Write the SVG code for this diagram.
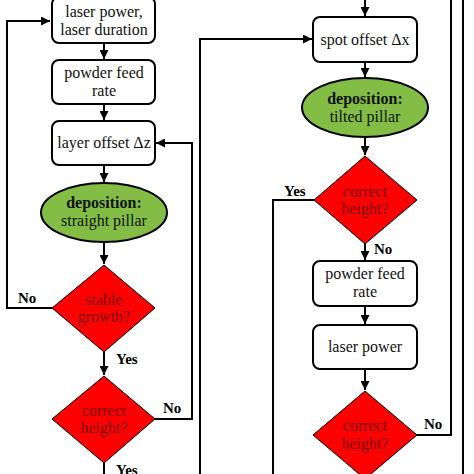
<svg xmlns="http://www.w3.org/2000/svg" width="474" height="474" viewBox="0 0 474 474">
<defs>
<marker id="ah" viewBox="0 0 10 10" refX="10" refY="5" markerWidth="5" markerHeight="4.5" orient="auto" markerUnits="strokeWidth">
<path d="M0,0 L10,5 L0,10 z" fill="#000"/>
</marker>
<style>
.box{fill:#fff;stroke:#000;stroke-width:2}
.ell{fill:#83bd45;stroke:#000;stroke-width:2}
.dia{fill:#ff0000;stroke:#000;stroke-width:1}
.t{font-family:"Liberation Serif","Times New Roman",serif;font-size:16px;fill:#111;text-anchor:middle}
.b{font-weight:bold}
.dt{font-family:"Liberation Serif","Times New Roman",serif;font-size:16px;fill:#7a0000;text-anchor:middle}
.lbl{font-family:"Liberation Serif","Times New Roman",serif;font-size:15px;font-weight:bold;fill:#000}
.c{fill:none;stroke:#000;stroke-width:2}
.a{marker-end:url(#ah)}
</style>
</defs>
<rect width="474" height="474" fill="#fff"/>
<g id="connectors">
<path class="c a" d="M104,43 V59"/>
<path class="c a" d="M104,104 V120"/>
<path class="c a" d="M104,165 V182"/>
<path class="c a" d="M104,242 V264"/>
<path class="c a" d="M52,308 H7 V21 H50"/>
<path class="c a" d="M104,352 V375"/>
<path class="c a" d="M155,419 H192 V143 H156"/>
<path class="c" d="M104,463 V474"/>
<path class="c a" d="M200,474 V39 H312"/>
<path class="c a" d="M365,0 V16"/>
<path class="c a" d="M365,62 V77"/>
<path class="c a" d="M365,137 V155"/>
<path class="c" d="M314,200 H273 V474"/>
<path class="c a" d="M365,244 V260"/>
<path class="c a" d="M365,306 V324"/>
<path class="c a" d="M365,369 V390"/>
<path class="c" d="M417,435 H451 V0"/>
<path class="c" d="M463,0 V474"/>
<text class="lbl" x="18" y="303">No</text>
<text class="lbl" x="116" y="364">Yes</text>
<text class="lbl" x="163" y="413">No</text>
<text class="lbl" x="116" y="475">Yes</text>
<text class="lbl" x="284" y="196">Yes</text>
<text class="lbl" x="374" y="254">No</text>
<text class="lbl" x="424" y="429">No</text>
</g>
<g id="n1"><rect class="box" x="52" y="-3" width="103" height="46" rx="7"/><text class="t" x="104" y="17">laser power,</text><text class="t" x="104" y="35">laser duration</text></g>
<g id="n2"><rect class="box" x="52" y="60" width="103" height="44" rx="7"/><text class="t" x="104" y="78">powder feed</text><text class="t" x="104" y="96">rate</text></g>
<g id="n3"><rect class="box" x="52" y="121" width="103" height="44" rx="7"/><text class="t" x="104" y="148">layer offset Δz</text></g>
<g id="n4"><ellipse class="ell" cx="104" cy="212.5" rx="63" ry="29.5"/><text class="t b" x="104" y="208">deposition:</text><text class="t" x="104" y="226">straight pillar</text></g>
<g id="n5"><polygon class="dia" points="104,265 155,308 104,352 52,308"/><text class="dt" x="104" y="305">stable</text><text class="dt" x="104" y="322">growth?</text></g>
<g id="n6"><polygon class="dia" points="104,376 155,419 104,463 52,419"/><text class="dt" x="104" y="416">correct</text><text class="dt" x="104" y="433">height?</text></g>
<g id="n7"><rect class="box" x="313" y="17" width="104" height="45" rx="7"/><text class="t" x="365" y="45">spot offset Δx</text></g>
<g id="n8"><ellipse class="ell" cx="365" cy="107.5" rx="63" ry="29.5"/><text class="t b" x="365" y="104">deposition:</text><text class="t" x="365" y="122">tilted pillar</text></g>
<g id="n9"><polygon class="dia" points="365,156 417,200 365,244 314,200"/><text class="dt" x="365" y="197">correct</text><text class="dt" x="365" y="214">height?</text></g>
<g id="n10"><rect class="box" x="313" y="261" width="104" height="45" rx="7"/><text class="t" x="365" y="279">powder feed</text><text class="t" x="365" y="297">rate</text></g>
<g id="n11"><rect class="box" x="313" y="325" width="104" height="44" rx="7"/><text class="t" x="365" y="352">laser power</text></g>
<g id="n12"><polygon class="dia" points="365,391 417,435 365,479 313,435"/><text class="dt" x="365" y="431">correct</text><text class="dt" x="365" y="449">height?</text></g>
</svg>
